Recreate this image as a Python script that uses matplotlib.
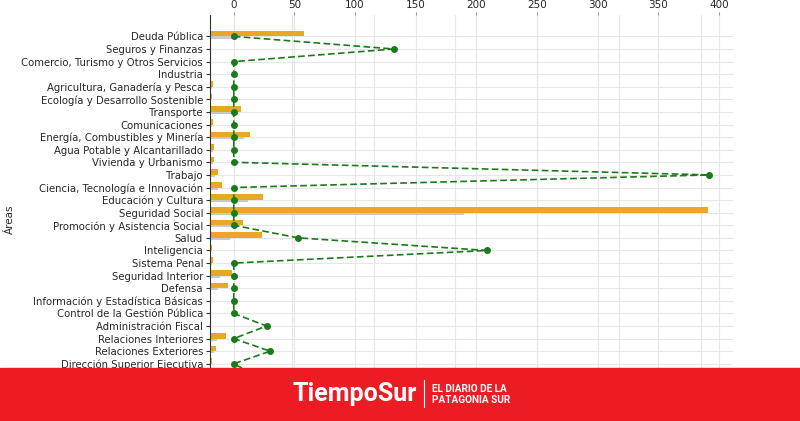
import matplotlib.pyplot as plt
from matplotlib.patches import Rectangle
from matplotlib.ticker import MultipleLocator

# categories, top to bottom
areas = [
    'Deuda Pública', 'Seguros y Finanzas', 'Comercio, Turismo y Otros Servicios',
    'Industria', 'Agricultura, Ganadería y Pesca', 'Ecología y Desarrollo Sostenible',
    'Transporte', 'Comunicaciones', 'Energía, Combustibles y Minería',
    'Agua Potable y Alcantarillado', 'Vivienda y Urbanismo', 'Trabajo',
    'Ciencia, Tecnología e Innovación', 'Educación y Cultura', 'Seguridad Social',
    'Promoción y Asistencia Social', 'Salud', 'Inteligencia', 'Sistema Penal',
    'Seguridad Interior', 'Defensa', 'Información y Estadística Básicas',
    'Control de la Gestión Pública', 'Administración Fiscal', 'Relaciones Interiores',
    'Relaciones Exteriores', 'Dirección Superior Ejecutiva', 'Judicial', 'Legislativa',
]

# orange bars (current)
monto_actual = [230, 1, 2, 2, 7, 5, 76, 7, 98, 10, 10, 20, 29, 130, 1218,
                81, 127, 5, 7, 54, 44, 1, 1, 2, 39, 15, 5, 40, 15]
# grey bars (previous)
monto_previo = [66, 0, 2, 2, 5, 2, 54, 5, 83, 7, 7, 12, 20, 93, 620,
                61, 49, 2, 5, 25, 20, 0, 0, 2, 17, 10, 2, 37, 12]
# green line (top axis)
variacion = [0, 132, 0, 0, 0, 0, 0, 0, 0, 0, 0, 392, 0, 0, 0,
             0, 53, 209, 0, 0, 0, 0, 0, 27, 0, 30, 0, 20, 0]

pos = list(range(len(areas)))
n = len(areas)

fig = plt.figure(figsize=(8, 4.21), dpi=100)
ax = fig.add_axes([210 / 800, 10 / 421, 523 / 800, 396 / 421])

# background axes only for the top-scale gridlines (kept under the bars)
ax_bg = ax.twiny()
ax2 = ax.twiny()
ax_bg.sharex(ax2)
ax_bg.set_zorder(0)
ax.set_zorder(1)
ax2.set_zorder(2)
ax_bg.patch.set_visible(True)
ax_bg.patch.set_facecolor('white')
ax.patch.set_visible(False)

ax.barh([p - 0.03 for p in pos], monto_previo, height=0.4, color='#c9c9c9')
ax.barh([p - 0.22 for p in pos], monto_actual, height=0.45, color='#e8a727')
ax.set_ylim(n - 1 + 1.75, -1.7)
ax.set_yticks(pos)
ax.set_yticklabels(areas)
ax.xaxis.set_major_locator(MultipleLocator(200))
ax.grid(True, color='#e6e6e6', lw=0.8)
ax.set_axisbelow(True)
for s in ['top', 'right', 'bottom']:
    ax.spines[s].set_visible(False)
ax.spines['left'].set_color('#333333')
ax.tick_params(axis='y', length=3, labelsize=7.3, labelcolor='#262626', color='#333333', pad=2)
# bottom scale sits under the banner (cropped in the original)
ax.tick_params(axis='x', length=0, labelbottom=False)
ax.set_ylabel('Áreas', fontsize=7.5, color='#262626')
ax.yaxis.set_label_coords(-0.373, 0.485)

ax2.plot(variacion, pos, ls='--', dashes=(4, 2), lw=1.2, marker='o', ms=4, color='#1b7a1b')
ax2.xaxis.set_major_locator(MultipleLocator(50))
for s in ax2.spines.values():
    s.set_visible(False)
ax2.tick_params(axis='x', length=2.5, labelsize=7.5, labelcolor='#262626', color='#999999', pad=1)

ax_bg.grid(axis='x', color='#e6e6e6', lw=0.8)
ax_bg.tick_params(axis='x', top=False, labeltop=False, bottom=False, labelbottom=False)
for s in ax_bg.spines.values():
    s.set_visible(False)

# red banner at the bottom
fig.add_artist(Rectangle((0, 0), 1, 53 / 421, transform=fig.transFigure,
                         color='#ed1c24', zorder=10))
fig.text(355 / 800, 27 / 421, 'TiempoSur', color='white', fontsize=18, fontweight='bold',
         family=['Roboto', 'DejaVu Sans'], ha='center', va='center', zorder=11)
fig.add_artist(plt.Line2D([424 / 800, 424 / 800], [14 / 421, 41 / 421], transform=fig.transFigure,
                          color='white', lw=0.8, zorder=11))
fig.text(432 / 800, 32 / 421, 'EL DIARIO DE LA', color='white', fontsize=7.2, fontweight='bold',
         family=['Roboto', 'DejaVu Sans'], ha='left', va='center', zorder=11)
fig.text(432 / 800, 21 / 421, 'PATAGONIA SUR', color='white', fontsize=7.2, fontweight='bold',
         family=['Roboto', 'DejaVu Sans'], ha='left', va='center', zorder=11)

fig.savefig('out.png', dpi=100)
